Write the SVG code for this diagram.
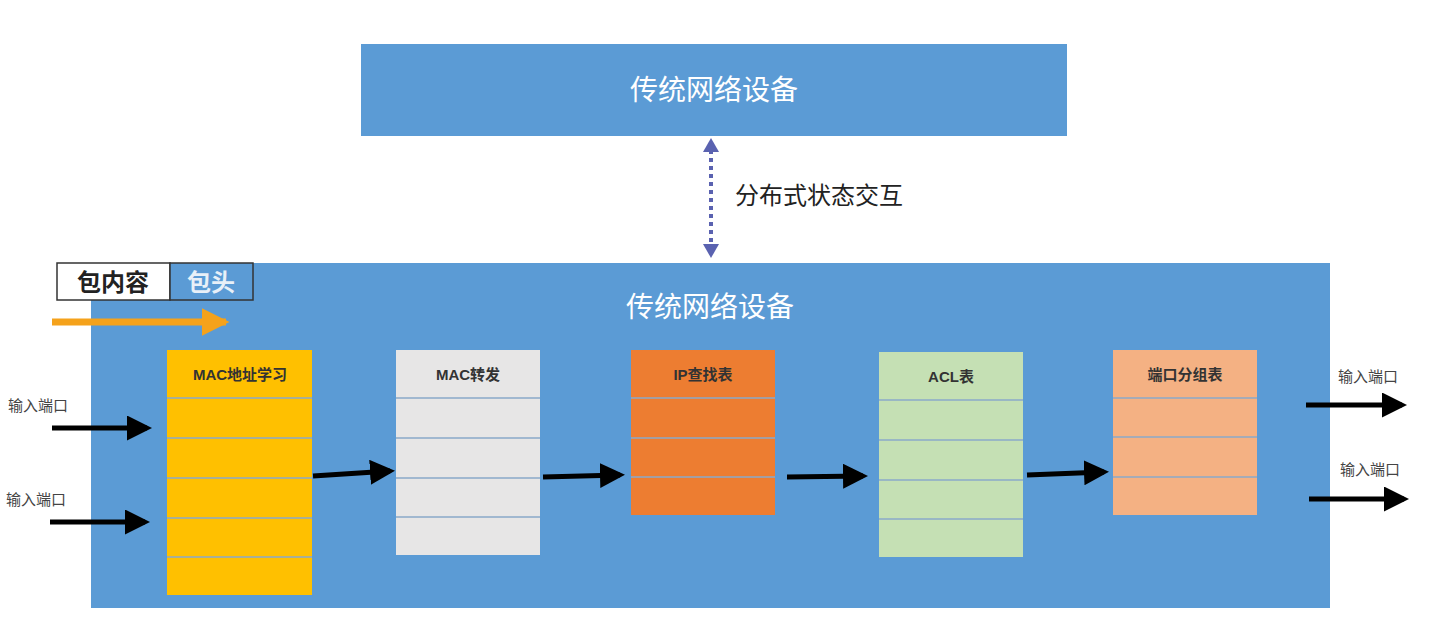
<svg xmlns="http://www.w3.org/2000/svg" width="1433" height="633" viewBox="0 0 1433 633">
<style>
.blue{fill:#5b9bd5}
.title{font-family:"Noto Sans CJK SC",serif;font-size:28px;fill:#fff;text-anchor:middle}
.hd{font-family:"Liberation Sans","Noto Sans CJK SC",sans-serif;font-size:15px;font-weight:bold;fill:#333;text-anchor:middle}
.port{font-family:"Noto Sans CJK SC",sans-serif;font-size:15px;fill:#444}
.row{stroke:#8aa9c9;stroke-width:1.5}
.arr{stroke:#000;stroke-width:5;fill:none;marker-end:url(#ah)}
</style>
<defs>
<marker id="ah" markerWidth="5" markerHeight="5" refX="4" refY="2.5" orient="auto" markerUnits="strokeWidth"><path d="M0,0L5,2.5L0,5z" fill="#000"/></marker>
<marker id="oh" markerWidth="4" markerHeight="4" refX="3.5" refY="2" orient="auto" markerUnits="strokeWidth"><path d="M0,0L4,2L0,4z" fill="#f5a21b"/></marker>
</defs>
<rect width="1433" height="633" fill="#fff"/>
<g id="top"><rect class="blue" x="361" y="44" width="706" height="92"/><text class="title" x="714" y="100">传统网络设备</text></g>
<g id="main"><rect class="blue" x="91" y="263" width="1239" height="345"/><text class="title" x="710" y="317">传统网络设备</text></g>
<g id="legend">
<rect x="57" y="263" width="113" height="37" fill="#fff" stroke="#333" stroke-width="1.5"/>
<rect x="170" y="263" width="83" height="37" fill="#5b9bd5" stroke="#333" stroke-width="1.5"/>
<text x="113" y="291" font-family="Noto Sans CJK SC,sans-serif" font-size="24" font-weight="bold" fill="#222" text-anchor="middle">包内容</text>
<text x="211" y="291" font-family="Noto Sans CJK SC,sans-serif" font-size="24" font-weight="bold" fill="#e8f0f8" text-anchor="middle">包头</text>
</g>
<g id="t1"><rect x="167" y="350" width="145" height="245" fill="#ffc000"/><path class="row" d="M167 398H312M167 438H312M167 478H312M167 518H312M167 557H312"/><text class="hd" x="240" y="380">MAC地址学习</text></g>
<g id="t2"><rect x="396" y="350" width="144" height="205" fill="#e7e6e6"/><path class="row" d="M396 398H540M396 438H540M396 478H540M396 517H540"/><text class="hd" x="468" y="380">MAC转发</text></g>
<g id="t3"><rect x="631" y="350" width="144" height="165" fill="#ed7d31"/><path class="row" d="M631 398H775M631 438H775M631 477H775"/><text class="hd" x="703" y="380">IP查找表</text></g>
<g id="t4"><rect x="879" y="352" width="144" height="205" fill="#c5e0b4"/><path class="row" d="M879 400H1023M879 440H1023M879 480H1023M879 519H1023"/><text class="hd" x="951" y="382">ACL表</text></g>
<g id="t5"><rect x="1113" y="350" width="144" height="165" fill="#f4b183"/><path class="row" d="M1113 398H1257M1113 437H1257M1113 477H1257"/><text class="hd" x="1185" y="380">端口分组表</text></g>
<g id="labels">
<text class="port" x="8" y="411">输入端口</text>
<text class="port" x="6" y="505">输入端口</text>
<text class="port" x="1338" y="382">输入端口</text>
<text class="port" x="1340" y="475">输入端口</text>
<text x="735" y="204" font-family="Noto Sans CJK SC,sans-serif" font-size="24" fill="#222">分布式状态交互</text>
</g>
<g id="connectors">
<line x1="711" y1="150" x2="711" y2="250" stroke="#5a62b0" stroke-width="4" stroke-dasharray="4,4"/>
<path d="M711 138l-8 14h16z" fill="#5a62b0"/><path d="M711 258l-8 -14h16z" fill="#5a62b0"/>
<line x1="52" y1="322" x2="226" y2="322" stroke="#f5a21b" stroke-width="7" marker-end="url(#oh)"/>
<line class="arr" x1="52" y1="428" x2="147" y2="428"/>
<line class="arr" x1="50" y1="522" x2="145" y2="522"/>
<line class="arr" x1="313" y1="476" x2="390" y2="471"/>
<line class="arr" x1="543" y1="477" x2="620" y2="475"/>
<line class="arr" x1="787" y1="477" x2="863" y2="476"/>
<line class="arr" x1="1027" y1="475" x2="1104" y2="472"/>
<line class="arr" x1="1306" y1="405" x2="1402" y2="405"/>
<line class="arr" x1="1309" y1="499" x2="1404" y2="499"/>
</g>
</svg>
